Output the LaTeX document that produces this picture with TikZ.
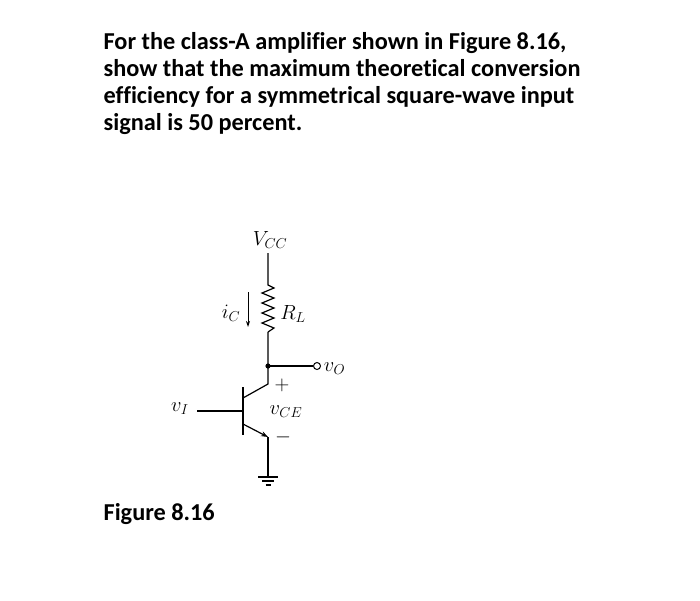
\documentclass[tikz,border=0pt]{standalone}
\usepackage{fontspec}
\setmainfont{Carlito}[Ligatures=NoCommon]
\usepackage{fix-cm}
\usetikzlibrary{arrows.meta}
\begin{document}
\begin{tikzpicture}[x=1pt,y=-1pt,line width=1.2pt,
  lbl/.style={font=\fontsize{20.5}{22}\selectfont},
  txt/.style={font=\fontsize{24.3}{27}\selectfont\bfseries,anchor=north west,align=left,inner sep=0}]
\useasboundingbox (0,0) rectangle (700,600);
\node[txt] (q) at (103,32) {For the class-A amplifier shown in Figure 8.16,\\show that the maximum theoretical conversion\\efficiency for a symmetrical square-wave input\\signal is 50 percent.};
\node[txt] (fig) at (103,503) {Figure 8.16};
% circuit
\coordinate (top) at (268,253);
\coordinate (r1) at (268,285);
\coordinate (r2) at (268,332);
\coordinate (n) at (268,366);
\coordinate (c) at (268,384);
\coordinate (e) at (268,437);
\coordinate (g) at (268,477);
\node[lbl] (vcc) at (270,240) {$V_{CC}$};
\draw (top) -- (r1)
  -- ++(6,3) -- ++(-12,5) -- ++(12,5) -- ++(-12,5) -- ++(12,5) -- ++(-12,5) -- ++(12,5) -- ++(-12,5) -- ++(12,5)--(r2);
\draw (r2) -- (n) -- (c) -- (243,398);
\fill (n) circle (2.6);
\node[draw,circle,fill=white,inner sep=0,minimum size=7pt,line width=1pt] (o) at (317,366) {};
\draw (n) -- (o);
\node[lbl,anchor=west] (vo) at (320,369) {$v_O$};
\draw[line width=1.6pt] (243,387) -- (243,435);
\coordinate (b) at (243,411);
\draw (197,411) -- (b);
\node[lbl] (vi) at (180,409) {$v_I$};
\draw[-{Stealth[length=7pt,width=5pt]}] (243,424) -- (e);
\draw (e) -- (g);
\draw (258,477) -- (278,477) (262,481) -- (274,481) (265.5,485) -- (270.5,485);
\node[lbl] (p) at (282,385) {$+$};
\node[lbl] (vce) at (286,412) {$v_{CE}$};
\node[lbl] (m) at (283,437) {$-$};
\draw[line width=1pt,-{Stealth[length=6pt,width=4pt]}] (248,292) -- (248,327);
\node[lbl] (ic) at (231,313) {$i_C$};
\node[lbl] (rl) at (293,314) {$R_L$};
\end{tikzpicture}
\end{document}
